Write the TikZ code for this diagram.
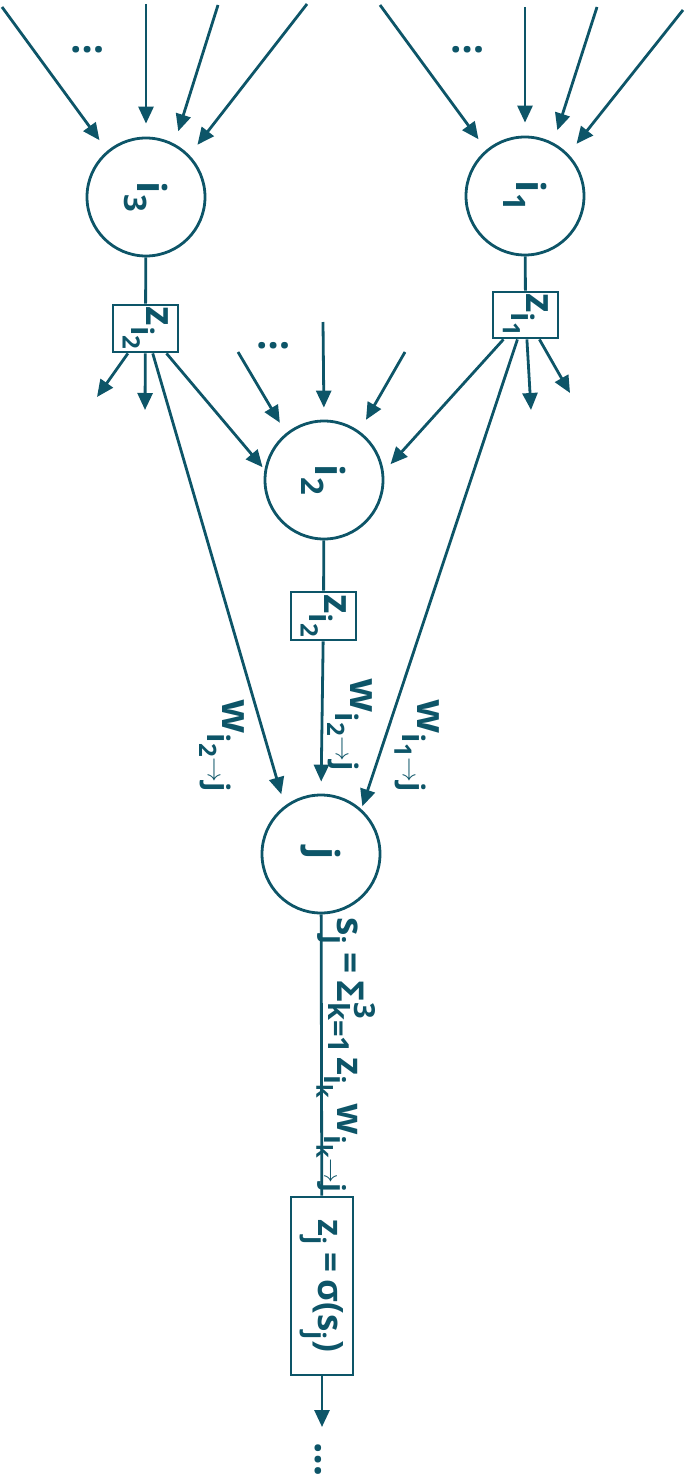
\documentclass[tikz,border=0pt]{standalone}
\usepackage{fontspec}
\usepackage{amsmath}
\usepackage{graphicx}
\setmainfont{Open Sans}
\usetikzlibrary{arrows.meta}
\definecolor{tealc}{HTML}{0D5568}
\DeclareMathSizes{40}{40}{31}{24}
\DeclareMathSizes{37}{37}{29}{22}
\DeclareMathSizes{35}{35}{27}{21}
\newcommand{\tf}[1]{\text{#1}}
\newcommand{\teq}{\mathrel{\text{=}}}
\begin{document}
\begin{tikzpicture}[x=1pt,y=-1pt,
  every node/.style={text=tealc},
  neuron/.style={circle,draw=tealc,line width=2.8pt,minimum size=118pt,inner sep=0pt},
  valbox/.style={draw=tealc,line width=2.8pt,inner sep=0pt},
  conn/.style={draw=tealc,line width=2.8pt},
  arr/.style={conn,-{Triangle[length=17pt,width=15pt]}},
  lbl/.style={font=\fontsize{40}{46}\selectfont\bfseries},
  sumfont/.style={font=\fontsize{37}{42}\selectfont\bfseries},
  boxfont/.style={font=\fontsize{35}{40}\selectfont\bfseries},
]
\useasboundingbox (0,0) rectangle (687,1477);

% neurons
\node[neuron,lbl] (i3) at (146,197) {\rotatebox{-90}{$\tf{i}_{\tf{3}}$}};
\node[neuron,lbl] (i1) at (525,196) {\rotatebox{-90}{$\tf{i}_{\tf{1}}$}};
\node[neuron,lbl] (i2) at (324,480) {\rotatebox{-90}{$\tf{i}_{\tf{2}}$}};
\node[neuron,lbl] (j) at (321,854) {\rotatebox{-90}{$\tf{j}$}};

% value boxes
\node[valbox,lbl,minimum width=65pt,minimum height=47pt] (zi3) at (145.5,328.5) {\rotatebox{-90}{$\tf{z}_{\tf{i}_{\tf{2}}}$}};
\node[valbox,lbl,minimum width=65pt,minimum height=46pt] (zi1) at (525.5,315) {\rotatebox{-90}{$\tf{z}_{\tf{i}_{\tf{1}}}$}};
\node[valbox,lbl,minimum width=65pt,minimum height=48pt] (zi2) at (323.5,616) {\rotatebox{-90}{$\tf{z}_{\tf{i}_{\tf{2}}}$}};
\node[valbox,boxfont,minimum width=62pt,minimum height=178pt] (zj) at (322,1286) {\rotatebox{-90}{$\tf{z}_{\tf{j}} \teq \tf{σ(s}_{\tf{j}}\tf{)}$}};

% labels
\node[lbl] (wl) at (222,746) {\rotatebox{-90}{$\tf{w}_{\tf{i}_{\tf{2}}\to\tf{j}}$}};
\node[lbl] (wm) at (350,725) {\rotatebox{-90}{$\tf{w}_{\tf{i}_{\tf{2}}\to\tf{j}}$}};
\node[lbl] (wr) at (417,746) {\rotatebox{-90}{$\tf{w}_{\tf{i}_{\tf{1}}\to\tf{j}}$}};
\node[sumfont] (sumlbl) at (346,1055) {\rotatebox{-90}{$\tf{s}_{\tf{j}} \teq \tf{Σ}^{\tf{3}}_{\tf{k=1}}\,\tf{z}_{\tf{i}_{\tf{k}}}\,\tf{w}_{\tf{i}_{\tf{k}}\to\tf{j}}$}};

% dots
\node[lbl] (d3) at (88,50) {…};
\node[lbl] (d1) at (468,50) {…};
\node[lbl] (d2) at (274,346) {…};
\node[lbl] (dbot) at (318,1460) {\rotatebox{-90}{…}};

% free ends
\coordinate (s31) at (2,7);
\coordinate (s32) at (146,4);
\coordinate (s33) at (218,5);
\coordinate (s34) at (307,4);
\coordinate (s11) at (380,5);
\coordinate (s12) at (525,7);
\coordinate (s13) at (597,7);
\coordinate (s14) at (683,10);
\coordinate (s21) at (238,352);
\coordinate (s22) at (323,322);
\coordinate (s23) at (405,352);
\coordinate (o31) at (97,397);
\coordinate (o32) at (145,410);
\coordinate (o11) at (531,410);
\coordinate (o12) at (570,393);
\coordinate (ojout) at (322,1427);

% inputs of i3
\draw[arr,shorten >=13pt] (s31) -- (i3.130);
\draw[arr,shorten >=13pt] (s32) -- (i3.north);
\draw[arr,shorten >=13pt] (s33) -- (i3.62);
\draw[arr,shorten >=13pt] (s34) -- (i3.44);
% inputs of i1
\draw[arr,shorten >=13pt] (s11) -- (i1.130);
\draw[arr,shorten >=13pt] (s12) -- (i1.north);
\draw[arr,shorten >=13pt] (s13) -- (i1.62);
\draw[arr,shorten >=13pt] (s14) -- (i1.44);
% inputs of i2
\draw[arr,shorten >=12pt] (s21) -- (i2.129);
\draw[arr,shorten >=12pt] (s22) -- (i2.north);
\draw[arr,shorten >=13pt] (s23) -- (i2.54);

% neuron to box
\draw[conn] (i3) -- (zi3);
\draw[conn] (i1) -- (zi1);
\draw[conn] (i2) -- (zi2);
\draw[conn] (j) -- (zj);

% outputs
\draw[arr] (zi3) -- (o31);
\draw[arr] (zi3) -- (o32);
\draw[arr] (zi1) -- (o11);
\draw[arr] (zi1) -- (o12);
\draw[arr,shorten >=3pt] (zi3) -- (i2.170);
\draw[arr,shorten >=10pt] (zi1) -- (i2.8);
\draw[arr,shorten >=12pt] (zi3) -- (j.127);
\draw[arr,shorten >=12pt] (zi2) -- (j.north);
\draw[arr,shorten >=3pt] (zi1) -- (j.48);
\draw[arr] (zj) -- (ojout);
\end{tikzpicture}
\end{document}
